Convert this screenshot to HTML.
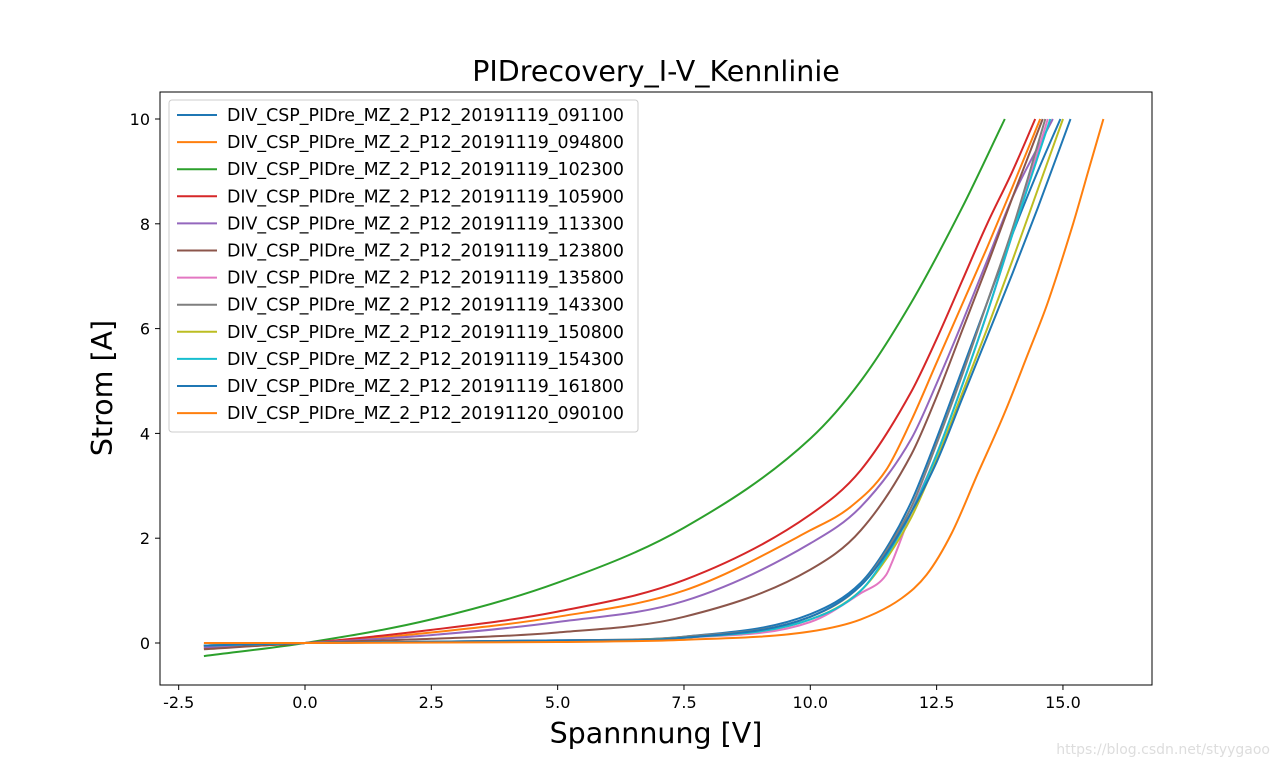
<!DOCTYPE html>
<html><head><meta charset="utf-8"><style>
html,body{margin:0;padding:0;background:#fff;width:1280px;height:768px;overflow:hidden}
svg text{font-family:"DejaVu Sans","Liberation Sans",sans-serif}
</style></head><body>
<svg id="chart" width="1280" height="768" xmlns="http://www.w3.org/2000/svg">
<text x="656" y="81" font-size="28.5" text-anchor="middle">PIDrecovery_I-V_Kennlinie</text>
<text x="656" y="743" font-size="28.5" text-anchor="middle">Spannnung [V]</text>
<text transform="translate(112,388) rotate(-90)" font-size="28.5" text-anchor="middle">Strom [A]</text>
<text x="1270" y="754" font-size="14" fill="#ddd" text-anchor="end">https://blog.csdn.net/styygaoo</text>
<g id="plot"></g>
</svg>
<script>
const xTicks=[-2.5,0,2.5,5,7.5,10,12.5,15];
const yTicks=[0,2,4,6,8,10];
const seriesNames=["DIV_CSP_PIDre_MZ_2_P12_20191119_091100","DIV_CSP_PIDre_MZ_2_P12_20191119_094800","DIV_CSP_PIDre_MZ_2_P12_20191119_102300","DIV_CSP_PIDre_MZ_2_P12_20191119_105900","DIV_CSP_PIDre_MZ_2_P12_20191119_113300","DIV_CSP_PIDre_MZ_2_P12_20191119_123800","DIV_CSP_PIDre_MZ_2_P12_20191119_135800","DIV_CSP_PIDre_MZ_2_P12_20191119_143300","DIV_CSP_PIDre_MZ_2_P12_20191119_150800","DIV_CSP_PIDre_MZ_2_P12_20191119_154300","DIV_CSP_PIDre_MZ_2_P12_20191119_161800","DIV_CSP_PIDre_MZ_2_P12_20191120_090100"];
const colors=["#1f77b4","#ff7f0e","#2ca02c","#d62728","#9467bd","#8c564b","#e377c2","#7f7f7f","#bcbd22","#17becf","#1f77b4","#ff7f0e"];
const s0V=[-2,0,5,7.5,10,11,11.5,12,12.5,13,13.5,14,14.5,14.95];
const s0I=[-0.05,0,0.05,0.12,0.55,1.15,1.8,2.7,3.9,5.2,6.5,7.8,9.0,10];
const s1V=[-2,0,2.5,5,7.5,10,10.8,11.5,12,12.5,13,13.5,14,14.55];
const s1I=[-0.05,0,0.2,0.5,1.0,2.15,2.6,3.3,4.25,5.35,6.45,7.55,8.7,10];
const s2V=[-2,0,2.5,5,7.5,10,11,12,13,13.85];
const s2I=[-0.25,0,0.45,1.15,2.2,3.9,5.0,6.5,8.3,10];
const s3V=[-2,0,2.5,5,7.5,10,11,12,12.5,13,13.5,14,14.45];
const s3I=[-0.1,0,0.25,0.6,1.2,2.45,3.3,4.8,5.8,6.9,8.0,9.0,10];
const s4V=[-2,0,2.5,5,7.5,10,11,12,12.5,13,13.5,14,14.8];
const s4I=[-0.08,0,0.15,0.4,0.8,1.9,2.6,3.9,4.95,6.1,7.3,8.5,10];
const s5V=[-2,0,2.5,5,7.5,10,11,12,12.5,13,13.5,14,14.6];
const s5I=[-0.12,0,0.08,0.2,0.5,1.4,2.15,3.6,4.7,5.95,7.2,8.5,10];
const s6V=[-2,0,5,7.5,10,11,11.5,11.6,12,12.5,13,13.5,14,14.7];
const s6I=[-0.05,0,0.04,0.1,0.4,0.95,1.3,1.5,2.5,3.6,4.9,6.3,7.8,10];
const s7V=[-2,0,5,7.5,10,11,11.5,12,12.5,13,13.5,14,14.65];
const s7I=[-0.05,0,0.05,0.12,0.5,1.1,1.75,2.6,3.8,5.1,6.5,7.9,10];
const s8V=[-2,0,5,7.5,10,11,11.5,12,12.5,13,13.5,14,14.5,15.0];
const s8I=[-0.05,0,0.04,0.1,0.45,1.0,1.6,2.4,3.5,4.75,6.0,7.3,8.65,10];
const s9V=[-2,0,5,7.5,10,11,11.5,12,12.5,13,13.5,14,14.75];
const s9I=[-0.05,0,0.04,0.1,0.45,1.0,1.65,2.5,3.6,4.9,6.3,7.8,10];
const s10V=[-2,0,5,7.5,10,11,11.5,12,12.5,13,13.5,14,14.5,15.15];
const s10I=[-0.05,0,0.05,0.1,0.5,1.1,1.7,2.5,3.45,4.65,5.85,7.05,8.3,10];
const s11V=[-2,0,5,7.5,10,11,11.8,12.3,12.8,13.3,13.85,14.3,14.7,15.2,15.5,15.8];
const s11I=[0,0,0.02,0.06,0.22,0.45,0.85,1.3,2.1,3.2,4.4,5.5,6.5,8.0,9.0,10];
const allV=[s0V,s1V,s2V,s3V,s4V,s5V,s6V,s7V,s8V,s9V,s10V,s11V];
const allI=[s0I,s1I,s2I,s3I,s4I,s5I,s6I,s7I,s8I,s9I,s10I,s11I];

const L=160,R=1152,T=92,B=685;
const xS=v=>305+v*50.53;
const yS=i=>643-i*52.4;
const NS="http://www.w3.org/2000/svg";
const g=document.getElementById('plot');
function mk(t,a,p){const e=document.createElementNS(NS,t);for(const k in a)e.setAttribute(k,a[k]);(p||g).appendChild(e);return e;}

function smoothPath(xs,ys){
  const n=xs.length;const d=[],m=[];
  for(let i=0;i<n-1;i++)d.push((ys[i+1]-ys[i])/(xs[i+1]-xs[i]));
  m[0]=d[0];m[n-1]=d[n-2];
  for(let i=1;i<n-1;i++){m[i]=(d[i-1]*d[i]<=0)?0:(d[i-1]+d[i])/2;}
  let s='M'+xs[0].toFixed(1)+','+ys[0].toFixed(1);
  for(let i=0;i<n-1;i++){
    const h=xs[i+1]-xs[i];
    s+=' C'+(xs[i]+h/3).toFixed(1)+','+(ys[i]+m[i]*h/3).toFixed(1)+' '+(xs[i+1]-h/3).toFixed(1)+','+(ys[i+1]-m[i+1]*h/3).toFixed(1)+' '+xs[i+1].toFixed(1)+','+ys[i+1].toFixed(1);
  }
  return s;
}
allV.forEach((vs,k)=>{
  const p=mk('path',{d:smoothPath(vs.map(xS),allI[k].map(yS)),fill:'none',stroke:colors[k],'stroke-width':2});
  
  
});
const fr=mk('rect',{x:L,y:T,width:R-L,height:B-T,fill:'none',stroke:'#000','stroke-width':1});


xTicks.forEach(v=>{
  const x=xS(v);
  mk('line',{x1:x,x2:x,y1:B,y2:B+5,stroke:'#000'});
  const t=mk('text',{x:x,y:B+23,'font-size':16,'text-anchor':'middle'});
  t.textContent=v.toFixed(1);
  
  
});
yTicks.forEach(v=>{
  const y=yS(v);
  mk('line',{x1:L-5,x2:L,y1:y,y2:y,stroke:'#000'});
  const t=mk('text',{x:L-10,y:y+6,'font-size':16,'text-anchor':'end'});
  t.textContent=v;
  
  
});
const lg=mk('g',{});


mk('rect',{x:169,y:100,width:469,height:332,rx:3,fill:'#fff','fill-opacity':0.8,stroke:'#ccc'},lg);
seriesNames.forEach((n,k)=>{
  const y=115+k*27.1;
  const e=mk('g',{},lg);
  
  
  mk('line',{x1:177,x2:217,y1:y,y2:y,stroke:colors[k],'stroke-width':2},e);
  const t=mk('text',{x:227,y:y+6,'font-size':17.4},e);
  t.textContent=n;
});
</script>
</body></html>
